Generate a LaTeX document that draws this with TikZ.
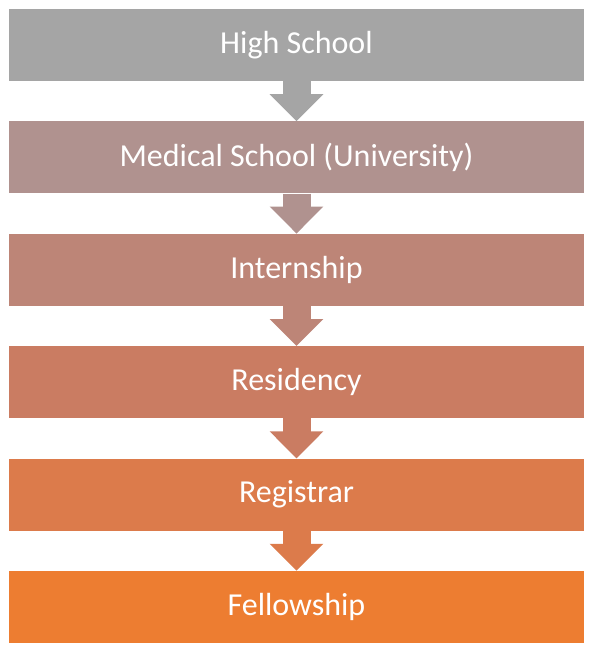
\documentclass[tikz,border=0pt]{standalone}
\usepackage{fontspec}
\setmainfont{Carlito}
\usetikzlibrary{positioning,arrows.meta}
\definecolor{stageone}{HTML}{A5A5A5}
\definecolor{stagetwo}{HTML}{B0928F}
\definecolor{stagethree}{HTML}{BD8577}
\definecolor{stagefour}{HTML}{CA7C62}
\definecolor{stagefive}{HTML}{DC7B4B}
\definecolor{stagesix}{HTML}{ED7D31}
\begin{document}
\begin{tikzpicture}[x=1pt,y=1pt,
    stage/.style={minimum width=575pt,minimum height=72pt,inner sep=0pt,
        text=white,font=\fontsize{32}{38}\selectfont},
    flow/.style={line width=28pt,-{Triangle[width=52pt,length=27pt]}}]
            \useasboundingbox (0,0) rectangle (594,-653);
            % the steps
            \node[stage,fill=stageone] (high) at (296.5,-45) {High School};
            \node[stage,fill=stagetwo,below=40pt of high] (med) {Medical School (University)};
            \node[stage,fill=stagethree,below=40pt of med] (intern) {Internship};
            \node[stage,fill=stagefour,below=40pt of intern] (resid) {Residency};
            \node[stage,fill=stagefive,below=40pt of resid] (regis) {Registrar};
            \node[stage,fill=stagesix,below=40pt of regis] (fellow) {Fellowship};
            % the arrows
            \draw[flow,stageone] (high) -- (med);
            \draw[flow,stagetwo] (med) -- (intern);
            \draw[flow,stagethree] (intern) -- (resid);
            \draw[flow,stagefour] (resid) -- (regis);
            \draw[flow,stagefive] (regis) -- (fellow);
        \end{tikzpicture}
\end{document}
